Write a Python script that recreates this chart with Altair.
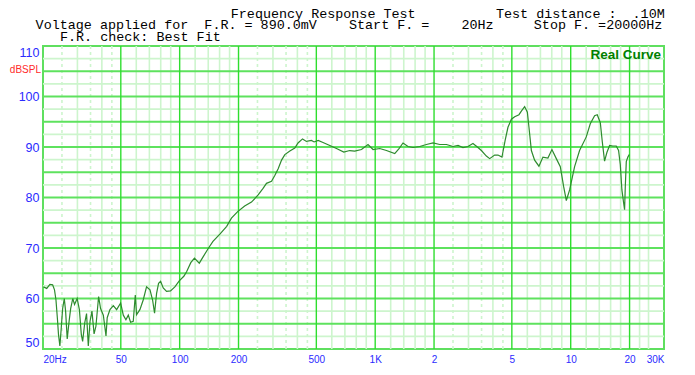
import altair as alt
import pandas as pd

# ---- measured response (Hz, dB SPL) ----
freq = [20.1, 20.9, 21.7, 22.4, 22.9, 23.3, 23.7, 24.0, 24.4, 24.8, 25.2, 25.7, 26.1, 26.6, 27.2,
        27.7, 28.4, 29.0, 29.9, 30.7, 31.4, 31.9, 32.7, 33.4, 34.1, 34.8, 35.6, 36.5, 37.3, 38.5,
        39.4, 40.7, 42.0, 42.6, 44.0, 45.8, 47.6, 49.9, 51.5, 53.1, 54.6, 56.1, 57.9, 59.3, 60.2,
        62.6, 65.1, 67.7, 70.5, 72.7, 74.4, 76.2, 78.0, 79.9, 82.4, 85.7, 89.8, 94.5, 99.5,
        105, 108.5, 114, 119, 126, 132, 140, 148, 161, 174, 184, 198, 215, 233, 252, 267, 278,
        295, 307, 319, 332, 345, 366, 388, 403, 425, 445, 472, 487, 511, 541, 586, 634, 691,
        741, 786, 851, 919, 975, 1055, 1142, 1259, 1324, 1388, 1472, 1561, 1690, 1828, 1976,
        2138, 2314, 2501, 2652, 2812, 2982, 3163, 3355, 3492, 3704, 3851, 4083, 4246, 4450,
        4620, 4776, 4973, 5169, 5437, 5592, 5812, 6001, 6116, 6292, 6538, 6878, 7210, 7646,
        8016, 8440, 8848, 9198, 9496, 9872, 10470, 11100, 12010, 12590, 13250, 13670, 14170,
        14510, 14900, 15310, 15810, 16430, 17100, 17570, 17930, 18270, 18640, 18860, 19010,
        19240, 19600, 19930]
spl = [62.3, 62.0, 62.8, 62.7, 61.7, 59.7, 56.0, 52.9, 50.6, 54.2, 58.0, 60.0, 57.5, 52.0, 55.5,
       58.0, 60.0, 58.8, 60.0, 57.8, 52.9, 51.5, 55.2, 57.0, 50.6, 55.5, 57.5, 53.0, 54.5, 60.4,
       58.0, 56.7, 52.6, 56.2, 57.8, 58.6, 57.8, 59.1, 56.7, 55.8, 56.7, 55.3, 55.5, 60.7, 56.8,
       57.8, 59.7, 62.3, 61.7, 59.7, 57.1, 61.0, 63.0, 63.4, 62.1, 61.4, 61.5, 62.3, 63.5,
       64.4, 65.3, 67.1, 68.0, 67.0, 68.3, 69.9, 71.3, 72.8, 74.3, 75.9, 77.2, 78.3, 79.1, 80.5,
       81.8, 82.8, 83.2, 84.4, 85.7, 87.4, 88.5, 89.2, 89.8, 90.8, 91.6, 91.1, 91.3, 91.0, 91.3,
       90.9, 90.3, 89.7, 89.0, 89.3, 89.2, 89.5, 90.5, 89.5, 89.7, 89.3, 88.7, 89.7, 90.8, 90.1,
       89.9, 90.1, 90.5, 90.8, 90.5, 90.5, 90.1, 90.3, 89.9, 90.1, 90.7, 89.9, 89.3, 88.2, 87.7,
       88.4, 88.4, 88.0, 91.3, 93.9, 95.5, 96.0, 96.4, 97.1, 98.0, 96.9, 93.9, 89.3, 87.4, 86.2,
       88.0, 87.8, 89.5, 87.7, 86.1, 82.2, 79.4, 81.5, 86.1, 89.3, 92.0, 94.6, 96.2, 96.4, 94.8,
       91.0, 87.2, 88.9, 90.3, 90.2, 90.2, 89.3, 86.5, 81.5, 79.0, 77.6, 82.0, 87.1, 88.0, 88.5]

# ---- grid & tick definitions ----
major_x = [50, 100, 200, 500, 1000, 2000, 5000, 10000, 20000]
minor_x = [30, 40, 60, 70, 80, 90, 120, 140, 160, 180, 300, 400, 600, 700, 800, 900,
           1200, 1400, 1600, 1800, 3000, 4000, 6000, 7000, 8000, 9000,
           12000, 14000, 16000, 18000, 22500, 25000]
dotted_x = [25, 35, 45, 250, 350, 450, 2500, 3500, 4500]
major_y = [55, 60, 65, 70, 75, 80, 85, 90, 95, 100, 105]
minor_y = [52.5, 57.5, 62.5, 67.5, 72.5, 77.5, 82.5, 87.5, 92.5, 97.5, 102.5, 107.5]
x_tick_vals = [20, 50, 100, 200, 500, 1000, 2000, 5000, 10000, 20000, 30000]
x_tick_text = ["20Hz", "50", "100", "200", "500", "1K", "2", "5", "10", "20", "30K"]
y_tick_vals = [50, 60, 70, 80, 90, 100, 110]

NB = "\u00a0"
header1 = "Frequency Response Test" + NB * 10 + "Test distance :" + NB * 2 + ".10M"
header2 = ("Voltage applied for" + NB * 2 + "F.R. = 890.0mV" + NB * 4 + "Start F. ="
           + NB * 4 + "20Hz" + NB * 5 + "Stop F. =20000Hz")
header3 = "F.R. check: Best Fit"

curve_df = pd.DataFrame({"f": freq, "db": spl})

label_expr = " : ".join(
    f"datum.value == {v} ? '{t}'" for v, t in zip(x_tick_vals, x_tick_text)
) + " : ''"

SANS = "Liberation Sans, Arial, sans-serif"
BLUE = "#2b2bff"
xscale = alt.Scale(type="log", domain=[20, 30000], nice=False)
yscale = alt.Scale(domain=[50, 110], nice=False, zero=False)
xaxis = alt.Axis(values=x_tick_vals, labelExpr=label_expr, grid=False, ticks=False,
                 domain=False, title=None, labelColor=BLUE, labelFont=SANS,
                 labelFontSize=10, labelPadding=5)
yaxis = alt.Axis(values=y_tick_vals, format="d", grid=False, ticks=False, domain=False,
                 title=None, labelColor=BLUE, labelFont=SANS, labelFontSize=12.5,
                 labelPadding=4, labelFlush=True)

def vrules(vals, color, width, dash=None):
    kw = dict(color=color, strokeWidth=width)
    if dash:
        kw["strokeDash"] = dash
    return alt.Chart(pd.DataFrame({"f": vals})).mark_rule(**kw).encode(
        x=alt.X("f:Q", scale=xscale, axis=xaxis))

def hrules(vals, color, width):
    return alt.Chart(pd.DataFrame({"db": vals})).mark_rule(color=color, strokeWidth=width).encode(
        y=alt.Y("db:Q", scale=yscale, axis=yaxis))

LIGHT = "#cdf5cd"
grid = [
    hrules(minor_y, LIGHT, 1.6),
    vrules(minor_x, LIGHT, 1.6),
    vrules(dotted_x, LIGHT, 1.6, [3, 3]),
    hrules(major_y, "#5ee25e", 2),
    vrules(major_x, "#2ede2e", 1.4),
]

curve = alt.Chart(curve_df).mark_line(color="#2e8b2e", strokeWidth=1.2).encode(
    x=alt.X("f:Q", scale=xscale, axis=xaxis),
    y=alt.Y("db:Q", scale=yscale, axis=yaxis),
)

def text_at(txt, x, y, **kw):
    return alt.Chart(pd.DataFrame({"t": [txt]})).mark_text(**kw).encode(
        text="t:N", x=alt.value(x), y=alt.value(y))

MONO = dict(font="Liberation Mono", fontSize=13.4, align="left", baseline="alphabetic",
            color="#000000")
texts = [
    text_at(header1, 187.8, -28.5, **MONO),
    text_at(header2, -7.4, -17, **MONO),
    text_at(header3, 17, -5.5, **MONO),
    text_at("dBSPL", -2, 24, font=SANS, fontSize=10, align="right", baseline="middle",
            color="#ff2a2a"),
    text_at("Real Curve", 618, 13, font=SANS, fontSize=13.5, fontWeight="bold",
            align="right", baseline="alphabetic", color="#008000"),
]

chart = alt.layer(*grid, curve, *texts).properties(
    width=621, height=303,
    autosize=alt.AutoSizeParams(type="none"),
    padding={"left": 35, "top": 38, "right": 13, "bottom": 18},
    background="white",
).configure_view(stroke="#5fdf5f", strokeWidth=2)

chart.save("out.html", embed_options={"renderer": "svg", "actions": False})
